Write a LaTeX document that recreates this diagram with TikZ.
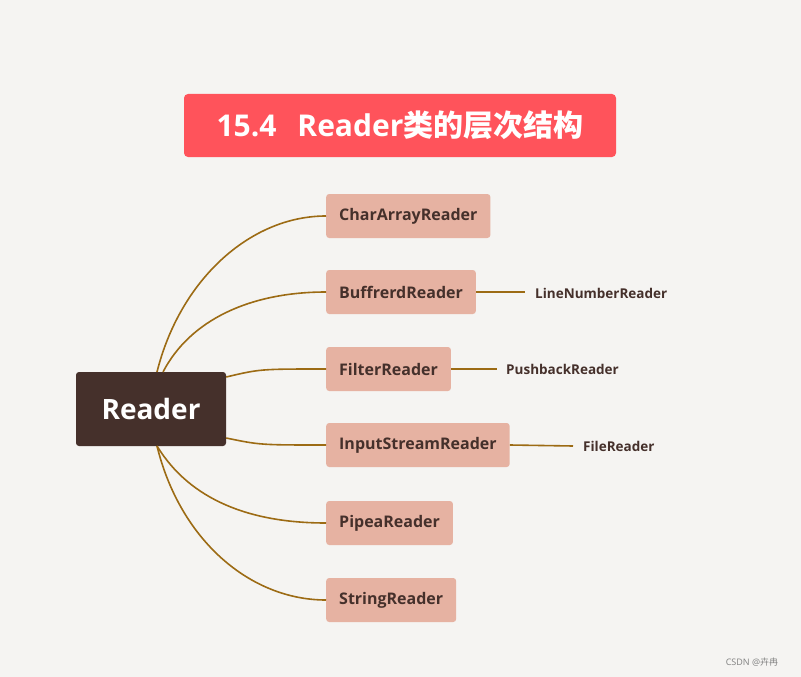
\documentclass[tikz,border=0pt]{standalone}
\usepackage{fontspec}
\setmainfont{Open Sans}
\newfontfamily\cjk{Noto Sans CJK SC}
\definecolor{bg}{HTML}{F5F4F2}
\definecolor{titlered}{HTML}{FF535B}
\definecolor{rootc}{HTML}{45302B}
\definecolor{childc}{HTML}{E6B2A2}
\definecolor{linec}{HTML}{9C6B14}
\begin{document}
\begin{tikzpicture}[x=1pt,y=-1pt,
  child/.style={fill=childc,rounded corners=3pt,text=rootc,font=\bfseries\fontsize{16}{18}\selectfont,minimum height=44pt,inner xsep=13pt,anchor=west},
  leaf/.style={text=rootc,font=\bfseries\fontsize{13.5}{16}\selectfont,anchor=west,inner sep=0pt},
  conn/.style={draw=linec,line width=1.6pt}]
\fill[bg] (0,0) rectangle (801,677);
\useasboundingbox (0,0) rectangle (801,677);
\node[fill=titlered,rounded corners=4pt,text=white,minimum width=432pt,minimum height=63pt,font=\bfseries\fontsize{30}{34}\selectfont] (title) at (400,125.5) {15.4\hspace{0.7em}Reader{\cjk\bfseries 类的层次结构}};
\node[fill=rootc,rounded corners=3pt,text=white,minimum width=150pt,minimum height=74pt,font=\bfseries\fontsize{28}{32}\selectfont] (root) at (151,409) {Reader};
\node[child] (c1) at (326,216) {CharArrayReader};
\node[child] (c2) at (326,292) {BuffrerdReader};
\node[child] (c3) at (326,369) {FilterReader};
\node[child] (c4) at (326,445) {InputStreamReader};
\node[child] (c5) at (326,523) {PipeaReader};
\node[child] (c6) at (326,600) {StringReader};
\node[leaf] (l2) at (535,293) {LineNumberReader};
\node[leaf] (l3) at (506,369) {PushbackReader};
\node[leaf] (l4) at (583,446) {FileReader};
\coordinate (e2) at (525,292);
\coordinate (e3) at (497,369);
\coordinate (e4) at (573,446);
\draw[conn] (157,372) .. controls (180,280) and (250,216) .. (c1.west);
\draw[conn] (163,372) .. controls (190,320) and (250,292) .. (c2.west);
\draw[conn] (root.east|-0,377) .. controls (260,369) .. (c3.west);
\draw[conn] (root.east|-0,438) .. controls (260,445) .. (c4.west);
\draw[conn] (157,446) .. controls (190,500) and (250,523) .. (c5.west);
\draw[conn] (157,446) .. controls (180,540) and (250,600) .. (c6.west);
\draw[conn] (c2.east) -- (e2);
\draw[conn] (c3.east) -- (e3);
\draw[conn] (c4.east) -- (e4);
\node[text=gray,font=\fontsize{9}{10}\selectfont] (wm) at (752,662) {CSDN @{\cjk 卉冉}};
\end{tikzpicture}
\end{document}
